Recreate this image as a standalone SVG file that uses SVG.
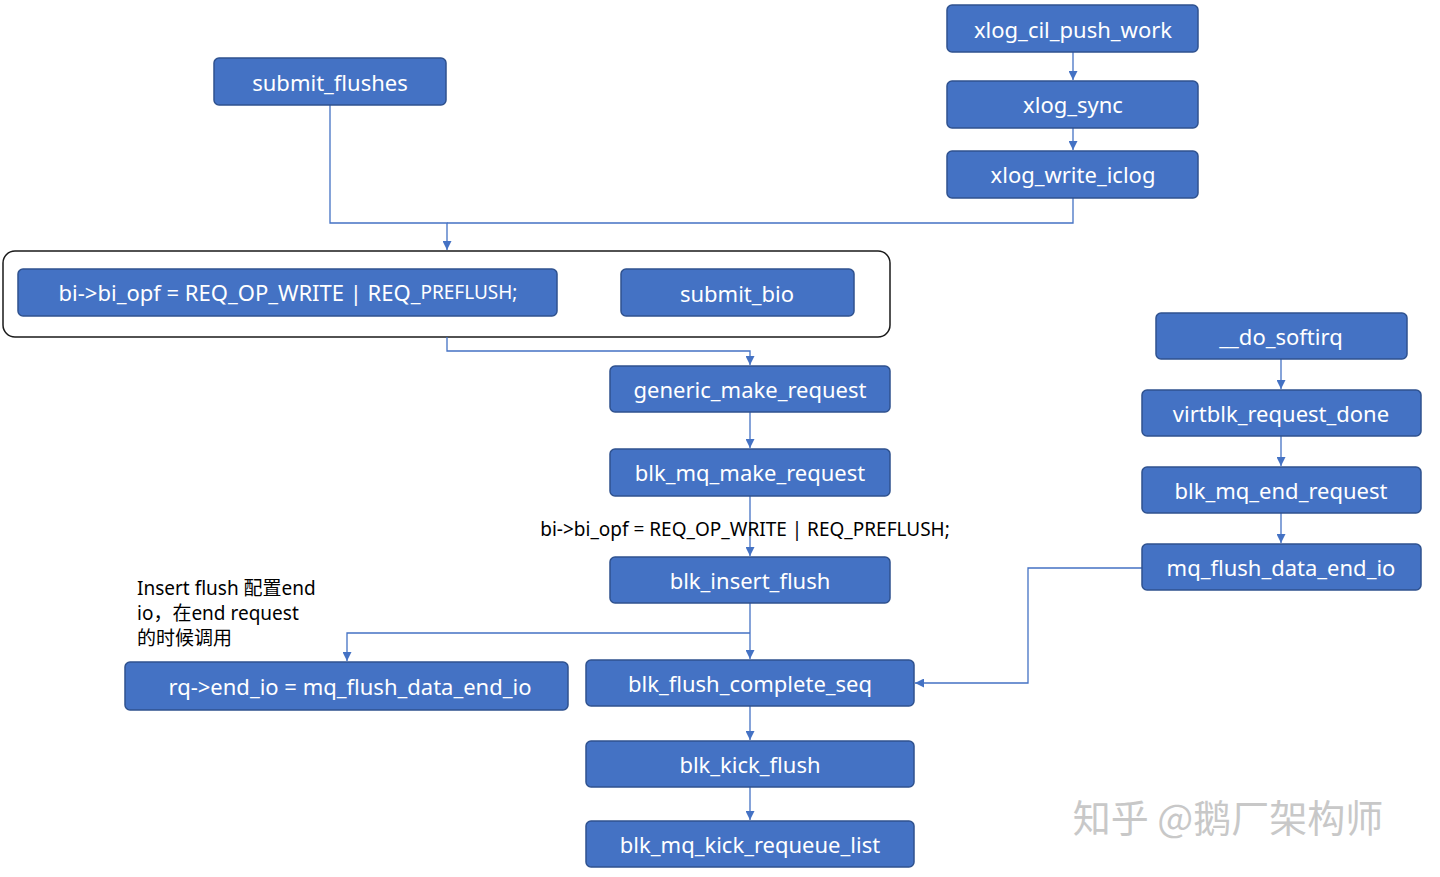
<svg xmlns="http://www.w3.org/2000/svg" width="1440" height="877" viewBox="0 0 1440 877">
<style>
.n rect{fill:#4472C4;stroke:#2F528F;stroke-width:1.5}
.n text{fill:#fff;font-family:"Noto Sans","Noto Sans CJK SC",sans-serif;font-size:22px;text-anchor:middle;dominant-baseline:central}
.c path{fill:none;stroke:#4472C4;stroke-width:1.3}
.lbl{font-family:"Noto Sans","Noto Sans CJK SC",sans-serif;font-size:19px;fill:#000}
</style>
<defs><marker id="a" viewBox="0 0 10 10" refX="10" refY="5" markerWidth="9" markerHeight="9" markerUnits="userSpaceOnUse" orient="auto"><path d="M0,0L10,5L0,10z" fill="#4472C4"/></marker></defs>
<rect x="3" y="251" width="887" height="86" rx="12" fill="#fff" stroke="#1a1a1a" stroke-width="1.5"/>
<g class="c">
<path d="M330,105V223H447V250" marker-end="url(#a)"/>
<path d="M1073,198V223H447"/>
<path d="M1073,52V80" marker-end="url(#a)"/>
<path d="M1073,128V150" marker-end="url(#a)"/>
<path d="M447,337V351H750V365" marker-end="url(#a)"/>
<path d="M750,412V448" marker-end="url(#a)"/>
<path d="M750,496V556" marker-end="url(#a)"/>
<path d="M750,603V659" marker-end="url(#a)"/>
<path d="M750,633H347V661" marker-end="url(#a)"/>
<path d="M750,706V740" marker-end="url(#a)"/>
<path d="M750,787V820" marker-end="url(#a)"/>
<path d="M1281,359V389" marker-end="url(#a)"/>
<path d="M1281,436V466" marker-end="url(#a)"/>
<path d="M1281,513V543" marker-end="url(#a)"/>
<path d="M1142,568H1028V683H915" marker-end="url(#a)"/>
</g>
<g id="submit_flushes" class="n"><rect x="214" y="58" width="232" height="47" rx="5"/><text x="330" y="82">submit_flushes</text></g>
<g id="xlog_cil_push_work" class="n"><rect x="947" y="5" width="251" height="47" rx="5"/><text x="1073" y="29">xlog_cil_push_work</text></g>
<g id="xlog_sync" class="n"><rect x="947" y="81" width="251" height="47" rx="5"/><text x="1073" y="104">xlog_sync</text></g>
<g id="xlog_write_iclog" class="n"><rect x="947" y="151" width="251" height="47" rx="5"/><text x="1073" y="174">xlog_write_iclog</text></g>
<g id="bi_opf" class="n"><rect x="18" y="269" width="539" height="47" rx="5"/><text x="288" y="292">bi-&gt;bi_opf = REQ_OP_WRITE | REQ_<tspan font-size="19">PREFLUSH;</tspan></text></g>
<g id="submit_bio" class="n"><rect x="621" y="269" width="233" height="47" rx="5"/><text x="737" y="293">submit_bio</text></g>
<g id="generic_make_request" class="n"><rect x="610" y="366" width="280" height="46" rx="5"/><text x="750" y="389">generic_make_request</text></g>
<g id="blk_mq_make_request" class="n"><rect x="610" y="449" width="280" height="47" rx="5"/><text x="750" y="472">blk_mq_make_request</text></g>
<g id="blk_insert_flush" class="n"><rect x="610" y="557" width="280" height="46" rx="5"/><text x="750" y="580">blk_insert_flush</text></g>
<g id="blk_flush_complete_seq" class="n"><rect x="586" y="660" width="328" height="46" rx="5"/><text x="750" y="683">blk_flush_complete_seq</text></g>
<g id="blk_kick_flush" class="n"><rect x="586" y="741" width="328" height="46" rx="5"/><text x="750" y="764">blk_kick_flush</text></g>
<g id="blk_mq_kick_requeue_list" class="n"><rect x="586" y="821" width="328" height="46" rx="5"/><text x="750" y="844">blk_mq_kick_requeue_list</text></g>
<g id="rq_end_io" class="n"><rect x="125" y="662" width="443" height="48" rx="5"/><text x="350" y="686">rq-&gt;end_io = mq_flush_data_end_io</text></g>
<g id="do_softirq" class="n"><rect x="1156" y="313" width="251" height="46" rx="5"/><text x="1281" y="336">__do_softirq</text></g>
<g id="virtblk_request_done" class="n"><rect x="1142" y="390" width="279" height="46" rx="5"/><text x="1281" y="413">virtblk_request_done</text></g>
<g id="blk_mq_end_request" class="n"><rect x="1142" y="467" width="279" height="46" rx="5"/><text x="1281" y="490">blk_mq_end_request</text></g>
<g id="mq_flush_data_end_io" class="n"><rect x="1142" y="544" width="279" height="46" rx="5"/><text x="1281" y="567">mq_flush_data_end_io</text></g>
<text class="lbl" x="745" y="536" text-anchor="middle">bi-&gt;bi_opf = REQ_OP_WRITE | REQ_PREFLUSH;</text>
<text class="lbl" x="137" y="595">Insert flush 配置end</text>
<text class="lbl" x="137" y="620">io，在end request</text>
<text class="lbl" x="137" y="645">的时候调用</text>
<text x="1228" y="832" text-anchor="middle" font-family="Noto Sans CJK SC,sans-serif" font-size="38" fill="#c8c8c8">知乎 @鹅厂架构师</text>
</svg>
